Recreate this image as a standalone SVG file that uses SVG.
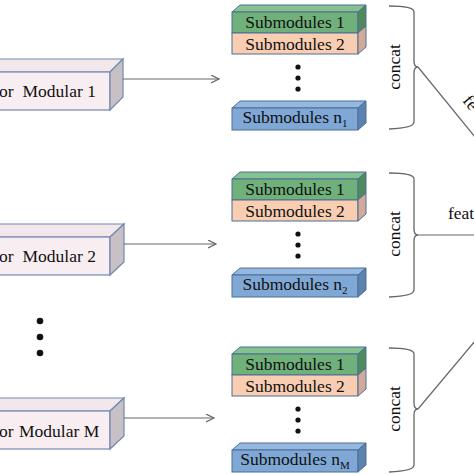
<svg xmlns="http://www.w3.org/2000/svg" width="474" height="474" viewBox="0 0 474 474">
<defs>
<style>
.bf{fill:#f8eef1;stroke:#7488b2;stroke-width:1.2}
.bt{fill:#f2e8ec;stroke:#7488b2;stroke-width:1.2}
.bs{fill:#c7c0c4;stroke:#7488b2;stroke-width:1.2}
.gf{fill:#6fb07b;stroke:#4d6f95;stroke-width:1}
.gt{fill:#86c28f;stroke:#4d6f95;stroke-width:1}
.gs{fill:#4f8a5b;stroke:#4d6f95;stroke-width:1}
.pf{fill:#f9cdb1;stroke:#4d6f95;stroke-width:1}
.ps{fill:#d2ab98;stroke:#4d6f95;stroke-width:1}
.lf{fill:#7fa8d6;stroke:#4d6f95;stroke-width:1}
.lt{fill:#94b8df;stroke:#4d6f95;stroke-width:1}
.ls{fill:#5b82b0;stroke:#4d6f95;stroke-width:1}
.ln{fill:none;stroke:#666;stroke-width:1.2}
.br{fill:none;stroke:#666;stroke-width:1.3}
.mid{text-anchor:middle}
</style>
<marker id="arr" markerWidth="10" markerHeight="10" refX="8" refY="4" orient="auto" markerUnits="userSpaceOnUse">
<path d="M0,0 L8,4 L0,8" fill="none" stroke="#666" stroke-width="1.2"/>
</marker>
<g id="stack">
<polygon class="gt" points="232,12 358,12 366,5 240,5"/>
<rect class="gf" x="232" y="12" width="126" height="21"/>
<polygon class="gs" points="358,12 366,5 366,26 358,33"/>
<rect class="pf" x="232" y="33" width="126" height="21"/>
<polygon class="ps" points="358,33 366,26 366,47 358,54"/>
<circle cx="298" cy="67" r="2.6" fill="#111"/>
<circle cx="298" cy="78" r="2.6" fill="#111"/>
<circle cx="298" cy="89" r="2.6" fill="#111"/>
<polygon class="lt" points="232,108 358,108 366,101 240,101"/>
<rect class="lf" x="232" y="108" width="126" height="22"/>
<polygon class="ls" points="358,108 366,101 366,123 358,130"/>
</g>
</defs>

<g font-family="'Liberation Serif', 'Times New Roman', serif" font-size="17.5" fill="#111">
<g id="modular1">
<polygon class="bt" points="-50,72 110,72 123,59 -37,59"/>
<rect class="bf" x="-50" y="72" width="160" height="38"/>
<polygon class="bs" points="110,72 123,59 123,97 110,110"/>
<text x="-1" y="97">or <tspan x="22.5">Modular 1</tspan></text>
</g>
<g id="modular2">
<polygon class="bt" points="-50,237 110,237 124,224 -36,224"/>
<rect class="bf" x="-50" y="237" width="160" height="38"/>
<polygon class="bs" points="110,237 124,224 124,262 110,275"/>
<text x="-1" y="262">or <tspan x="22.5">Modular 2</tspan></text>
</g>
<g id="dots-left">
<circle cx="40" cy="321" r="3.3" fill="#111"/>
<circle cx="40" cy="337" r="3.3" fill="#111"/>
<circle cx="40" cy="353" r="3.3" fill="#111"/>
</g>
<g id="modularM">
<polygon class="bt" points="-50,411 110,411 124,398 -36,398"/>
<rect class="bf" x="-50" y="411" width="160" height="38"/>
<polygon class="bs" points="110,411 124,398 124,436 110,449"/>
<text x="-1" y="437">or <tspan x="19">Modular M</tspan></text>
</g>

<g id="stack1">
<use href="#stack"/>
<text class="mid" x="295" y="28">Submodules 1</text>
<text class="mid" x="295" y="50">Submodules 2</text>
<text class="mid" x="295" y="123">Submodules n<tspan font-size="11" dy="4">1</tspan></text>
<text transform="translate(400,67) rotate(-90)" class="mid">concat</text>
</g>
<g id="stack2" transform="translate(0,167)">
<use href="#stack"/>
<text class="mid" x="295" y="28">Submodules 1</text>
<text class="mid" x="295" y="50">Submodules 2</text>
<text class="mid" x="295" y="123">Submodules n<tspan font-size="11" dy="4">2</tspan></text>
<text transform="translate(400,67) rotate(-90)" class="mid">concat</text>
</g>
<g id="stack3" transform="translate(0,342)">
<use href="#stack"/>
<text class="mid" x="295" y="28">Submodules 1</text>
<text class="mid" x="295" y="50">Submodules 2</text>
<text class="mid" x="295" y="123">Submodules n<tspan font-size="11" dy="4">M</tspan></text>
<text transform="translate(400,67) rotate(-90)" class="mid">concat</text>
</g>

<g id="connectors">
<line class="ln" x1="123" y1="79" x2="219" y2="79" marker-end="url(#arr)"/>
<line class="ln" x1="124" y1="244" x2="216" y2="244" marker-end="url(#arr)"/>
<line class="ln" x1="124" y1="418" x2="214" y2="418" marker-end="url(#arr)"/>
<path class="br" d="M389,6 Q414,6 414,12 L414,61 Q414,67 418,67 Q414,67 414,73 L414,122 Q414,128 389,129"/>
<path class="br" d="M389,173 Q414,173 414,179 L414,229 Q414,235 418,235 Q414,235 414,241 L414,290 Q414,296 389,297"/>
<path class="br" d="M389,348 Q414,348 414,354 L414,403 Q414,409 418,409 Q414,409 414,415 L414,465 Q414,471 389,472"/>
<line class="ln" x1="418" y1="67" x2="475" y2="137"/>
<line class="ln" x1="418" y1="235" x2="475" y2="235"/>
<line class="ln" x1="418" y1="409" x2="475" y2="341"/>
<text transform="translate(462,101) rotate(50)">fe</text>
<text x="448" y="219">feat</text>
</g>
</g>
</svg>
